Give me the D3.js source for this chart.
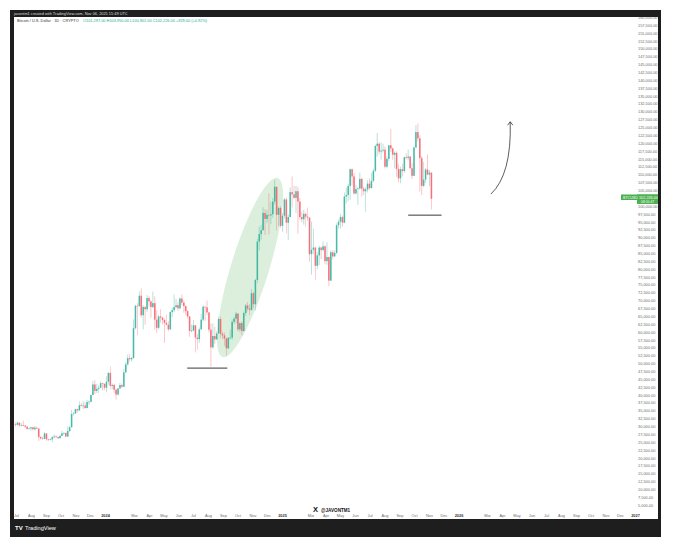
<!DOCTYPE html>
<html><head><meta charset="utf-8">
<script src="https://cdn.jsdelivr.net/npm/d3@7"></script>
<style>html,body{margin:0;padding:0;background:#fff;}svg{display:block;font-family:"Liberation Sans",Arial,sans-serif;}</style>
</head><body>
<svg id="c" width="675" height="546"></svg>
<script>
// ---- data: BTC/USD, 4-day candles (close date), from 2023-06-30 to 2025-11-06 ----
const startDate = "2023-06-30";
const stepDays = 4;
const firstOpen = 30690;
const closes = [
30480,31150,30290,30400,30240,29900,29180,29320,29700,29050,29570,29300,26620,26130,26050,27720,25900,25750,25840,26520,26760,26580,26220,26970,27780,27920,26750,28520,29680,33900,34090,35450,35050,36700,36470,36600,35800,37700,37850,39970,43300,41250,41900,42260,43700,43450,42270,
44150,46970,42850,43150,41650,40100,42030,43100,42580,47130,49700,51660,51300,51730,61200,68300,68200,71500,65300,67900,67200,70750,69700,67900,69150,63900,61300,64900,64500,63800,62900,62300,60800,66300,66900,67900,68500,67500,70600,69300,68200,66600,64900,60300,60400,62100,58200,57700,60800,63900,68000,67800,66200,60700,55100,58700,57600,59500,64100,59400,58900,57900,54800,58100,58200,63200,64200,65800,60800,62800,60300,66000,68400,67400,67000,72300,68800,76500,88700,91100,92300,97800,95900,97200,97000,97400,101400,106100,97200,99400,93700,
96900,102100,94700,96500,104400,103700,102600,104700,101400,96500,95800,97500,96600,96300,84700,86100,86800,81000,84300,86800,86000,87200,82500,83800,76300,85300,84000,85100,93900,95000,96500,94700,103000,103500,106400,111700,109400,104000,105400,105600,108600,105500,104700,105300,107100,105700,108000,111200,119100,119800,117300,117600,117900,112500,115000,119300,118300,116300,116900,111800,108800,111700,111100,115500,115300,115700,112000,109600,118600,123500,121500,115200,106400,108400,111600,110000,110600,102300
];
const highs = [
31250,31400,31300,31000,31800,30400,30050,29650,29750,29800,30200,29700,29400,26800,26800,28150,27800,26000,26150,26900,27400,27150,26800,27250,28600,28000,27950,30000,30200,35200,34500,35600,35600,37900,37400,38000,37600,38400,38200,40000,44400,44700,43500,43000,44300,43800,43700,
45900,47250,49000,43600,43500,41900,42200,43800,43500,48200,50400,52800,52900,52000,64000,68600,69200,72900,73800,68500,68200,71700,71400,70000,72800,71300,66900,65500,67200,64800,64200,65500,63400,66500,67700,71900,70500,69500,71000,71900,70000,68400,66900,65000,62300,63800,62100,59300,61400,65700,68500,68100,70000,66200,62700,62700,61600,60200,64900,64900,60000,59800,58300,58300,60700,64000,64800,66400,66000,63000,63400,66500,68900,69500,68800,73600,72800,76900,89600,93400,94000,99600,99000,98800,104000,101300,102500,108300,106200,99900,99900,
97800,102500,102700,97300,105900,109400,106400,106400,106000,102500,98200,98800,98000,99500,96500,95000,92800,87000,85300,87400,87100,88800,87500,88500,83900,85900,86000,85900,94500,95700,97500,97000,104300,105800,107000,111900,111900,110400,106800,106000,110600,109000,106100,106000,108200,108800,110500,111900,119500,123200,120200,120200,119800,118900,115800,119400,124450,118600,117300,117400,113400,112500,113400,115800,116800,117900,116000,113600,118900,125700,126200,122500,115900,114000,112100,116400,111400,110700
];
const lows = [
29900,30200,29700,30000,30050,29550,28900,29050,28600,28950,28700,29200,25300,25800,25800,25850,25400,25350,25550,24900,26200,26400,25990,26200,26950,27200,26550,26700,28200,29600,33400,34050,34400,35000,36300,35500,35700,35800,36800,37500,39900,40200,40600,40500,42200,41400,41500,
40800,43200,41800,41700,40600,38500,39800,41900,42200,42500,47000,49300,50600,50500,51500,60800,59000,68000,64600,60800,62300,66400,68100,64500,67500,60700,59700,60800,62900,62400,56500,62100,60200,60700,64700,66300,67400,66700,67200,68500,66100,65300,64100,58400,59900,60300,53500,54300,56500,60700,63300,63500,65300,59900,49000,54600,56200,57500,59300,58100,57700,55600,52500,54500,57500,57500,62400,62700,60300,59900,58900,60100,65100,66600,65300,66700,67500,66800,75500,85900,89300,92200,90800,94700,91000,94200,96300,100500,92200,93500,93100,
91800,96000,91300,89200,96500,99500,102300,97800,91200,95700,94800,94100,93400,95300,82300,78200,84800,76600,79900,81200,83200,85600,81600,81300,74500,76200,83100,83800,84800,92800,92900,93400,94500,100800,101500,102000,106500,103600,103700,100400,105200,103000,103500,98200,104300,105200,105600,107500,110700,115700,116500,114700,117000,112000,112100,114200,117200,114700,112000,109300,107500,107300,109400,110600,114800,114500,111900,108600,109500,118500,120600,104600,103500,106000,107300,109800,106300,98900
];
// axis tick labels
const priceTicks = d3.range(5000, 160001, 2500);
const timeTickDates = ["2023-07-01","2023-08-01","2023-09-01","2023-10-01","2023-11-01","2023-12-01","2024-01-01","2024-03-01","2024-04-01","2024-05-01","2024-06-01","2024-07-01","2024-08-01","2024-09-01","2024-10-01","2024-11-01","2024-12-01","2025-01-01","2025-03-01","2025-04-01","2025-05-01","2025-06-01","2025-07-01","2025-08-01","2025-09-01","2025-10-01","2025-11-01","2025-12-01","2026-01-01","2026-03-01","2026-04-01","2026-05-01","2026-06-01","2026-07-01","2026-08-01","2026-09-01","2026-10-01","2026-11-01","2026-12-01","2027-01-01"];
const timeTickLabels = ["Jul","Aug","Sep","Oct","Nov","Dec","2024","Mar","Apr","May","Jun","Jul","Aug","Sep","Oct","Nov","Dec","2025","Mar","Apr","May","Jun","Jul","Aug","Sep","Oct","Nov","Dec","2026","Mar","Apr","May","Jun","Jul","Aug","Sep","Oct","Nov","Dec","2027"];
// annotations (date, price)
const ellipseTips = [{date:"2024-12-23", price:108900},{date:"2024-08-31", price:52000}];
const supportLines = [{from:"2024-06-19", to:"2024-09-10", price:48500},{from:"2025-09-19", to:"2025-11-27", price:97100}];
const arrowPath = [{date:"2026-03-09", price:103800},{date:"2026-04-21", price:110000},{date:"2026-04-18", price:126700}];
const lastPrice = 102226;

// ---- build ----
const parse = d3.utcParse("%Y-%m-%d");
const t0 = parse(startDate);
const candles = closes.map((c,i)=>({
  date: d3.utcDay.offset(t0, i*stepDays),
  open: i===0 ? firstOpen : closes[i-1], close:c, high:highs[i], low:lows[i]}));

const svg = d3.select("#c");
const x = d3.scaleUtc().domain([parse("2023-07-01"), parse("2027-01-01")]).range([16, 635]);
const y = d3.scaleLinear().domain([5000,160000]).range([505, 17.2]);

svg.append("rect").attr("x",14).attr("y",17).attr("width",644).attr("height",502).attr("fill","#fff");
svg.append("clipPath").attr("id","plot").append("rect").attr("x",14).attr("y",17).attr("width",622).attr("height",492);
const plot = svg.append("g").attr("clip-path","url(#plot)");

// ellipse highlight
{
  const a = ellipseTips.map(d=>[x(parse(d.date)), y(d.price)]);
  const cx=(a[0][0]+a[1][0])/2, cy=(a[0][1]+a[1][1])/2;
  const len=Math.hypot(a[0][0]-a[1][0], a[0][1]-a[1][1])/2;
  const ang=Math.atan2(a[0][1]-a[1][1], a[0][0]-a[1][0])*180/Math.PI;
  plot.append("ellipse").attr("cx",cx).attr("cy",cy).attr("rx",len).attr("ry",19)
    .attr("transform",`rotate(${ang},${cx},${cy})`).attr("fill","rgba(76,175,80,0.2)");
}

const up="#22ab94", dn="#f7525f";
const cg = plot.append("g");
cg.selectAll("line").data(candles).join("line")
  .attr("x1",d=>x(d.date)).attr("x2",d=>x(d.date))
  .attr("y1",d=>y(d.high)).attr("y2",d=>y(d.low))
  .attr("stroke",d=>d.close>=d.open?up:dn).attr("stroke-width",0.6).attr("opacity",0.55);
cg.selectAll("rect").data(candles).join("rect")
  .attr("x",d=>x(d.date)-0.8).attr("width",1.6)
  .attr("y",d=>y(Math.max(d.open,d.close)))
  .attr("height",d=>Math.max(0.6, Math.abs(y(d.open)-y(d.close))))
  .attr("fill",d=>d.close>=d.open?up:dn).attr("opacity",0.75);

// support lines
plot.selectAll("line.sup").data(supportLines).join("line").attr("class","sup")
  .attr("x1",d=>x(parse(d.from))).attr("x2",d=>x(parse(d.to)))
  .attr("y1",d=>y(d.price)).attr("y2",d=>y(d.price))
  .attr("stroke","#222").attr("stroke-width",0.9);

// curved arrow
{
  const p = arrowPath.map(d=>[x(parse(d.date)), y(d.price)]);
  plot.append("path").attr("d",`M${p[0][0]},${p[0][1]} Q${p[1][0]},${p[1][1]} ${p[2][0]},${p[2][1]}`)
    .attr("fill","none").attr("stroke","#333").attr("stroke-width",0.8);
  const [tx,ty]=p[2];
  plot.append("path").attr("d",`M${tx-2.6},${ty+3.2} L${tx},${ty-0.3} L${tx+2.6},${ty+3.2}`)
    .attr("fill","none").attr("stroke","#333").attr("stroke-width",0.8);
}

// watermark
svg.append("text").attr("x",313).attr("y",512).attr("font-size",7.5).attr("font-weight",900).attr("fill","#111").text("X");
svg.append("text").attr("x",321).attr("y",511.5).attr("font-size",4.6).attr("font-weight",700).attr("fill","#111").text("@JAVONTM1");

// price axis
const ya = svg.append("g").attr("transform","translate(638,0)")
  .call(d3.axisRight(y).tickValues(priceTicks).tickFormat(d3.format(",.2f")).tickSize(0).tickPadding(0));
ya.select(".domain").remove();
ya.selectAll("text").attr("font-size",3.9).attr("fill","#6a6a6a").attr("font-family","Liberation Sans, Arial, sans-serif");

// time axis
const tMap = new Map(timeTickDates.map((d,i)=>[+parse(d), timeTickLabels[i]]));
const xa = svg.append("g").attr("transform","translate(0,514)")
  .call(d3.axisBottom(x).tickValues(timeTickDates.map(parse)).tickFormat(d=>tMap.get(+d)).tickSize(0).tickPadding(0));
xa.select(".domain").remove();
xa.selectAll("text").attr("font-size",3.9).attr("fill","#6a6a6a").attr("font-family","Liberation Sans, Arial, sans-serif")
  .attr("font-weight",d=>/^\d/.test(tMap.get(+d))?700:400)
  .attr("fill",d=>/^\d/.test(tMap.get(+d))?"#333":"#6a6a6a");

// last price label
svg.append("rect").attr("x",621).attr("y",194.5).attr("width",37).attr("height",5.5).attr("fill","#4caf50");
svg.append("rect").attr("x",637).attr("y",194.5).attr("width",21).attr("height",9.5).attr("fill","#4caf50");
svg.append("text").attr("x",623).attr("y",198.6).attr("font-size",3.6).attr("fill","#fff").text("BTCUSD");
svg.append("text").attr("x",639).attr("y",198.6).attr("font-size",3.8).attr("fill","#fff").text(d3.format(",.2f")(lastPrice));
svg.append("text").attr("x",641).attr("y",202.6).attr("font-size",3.4).attr("fill","#fff").text("08:10:47");

// legend
svg.append("text").attr("x",17).attr("y",22.3).attr("font-size",3.9).attr("fill","#333")
  .text("Bitcoin / U.S. Dollar · 1D · CRYPTO");
svg.append("text").attr("x",83).attr("y",22.3).attr("font-size",3.9).attr("fill","#22ab94")
  .text("O101,297.00 H103,950.00 L100,902.00 C102,226.00 +929.00 (+0.92%)");

// frame
const frame="#1e1e1e";
svg.append("rect").attr("x",10).attr("y",10).attr("width",651).attr("height",7).attr("fill",frame);
svg.append("rect").attr("x",10).attr("y",10).attr("width",4).attr("height",527).attr("fill",frame);
svg.append("rect").attr("x",658).attr("y",10).attr("width",3).attr("height",527).attr("fill",frame);
svg.append("rect").attr("x",10).attr("y",519).attr("width",651).attr("height",18).attr("fill",frame);
svg.append("text").attr("x",14).attr("y",15.2).attr("font-size",3.9).attr("fill","#ddd")
  .text("javontm1 created with TradingView.com, Nov 06, 2025 15:49 UTC");
svg.append("text").attr("x",15).attr("y",529.5).attr("font-size",6).attr("font-weight",900).attr("fill","#fff").text("TV");
svg.append("text").attr("x",25).attr("y",529.5).attr("font-size",5.6).attr("fill","#fff").text("TradingView");
</script>
</body></html>
